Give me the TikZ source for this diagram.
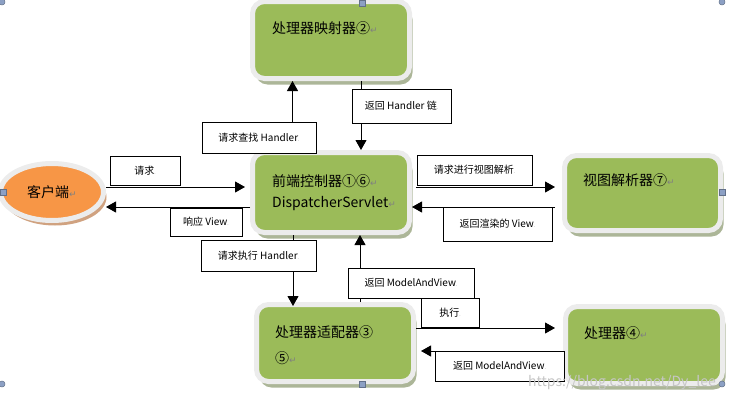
\documentclass[tikz,border=0pt]{standalone}
\usepackage{fontspec}
\setmainfont{Noto Sans CJK SC}
\newfontfamily\symfont{DejaVu Sans}
\usetikzlibrary{arrows.meta,shapes.geometric,shadows}
\definecolor{boxgreen}{RGB}{155,187,89}
\definecolor{boxrim}{RGB}{236,236,236}
\definecolor{boxshade}{RGB}{172,182,152}
\definecolor{clientorange}{RGB}{247,150,70}
\definecolor{clientshade}{RGB}{208,162,128}
\definecolor{handlefill}{RGB}{140,160,196}
\newcommand{\retmark}{{\symfont\color{gray}\fontsize{9}{9}\selectfont ↵}}
\newcommand{\tinymark}{{\color{gray}\fontsize{5}{5}\selectfont .}}
\tikzset{
  unit/.style={rounded corners=12pt, fill=boxgreen, draw=boxrim, line width=5pt,
    minimum width=157pt, minimum height=77pt,
    drop shadow={shadow xshift=3pt, shadow yshift=-6pt, fill=boxshade, opacity=1}},
  client/.style={ellipse, fill=clientorange, draw=boxrim, line width=5pt,
    minimum width=103pt, minimum height=57pt, inner sep=0pt,
    font=\fontsize{14}{16}\selectfont,
    drop shadow={shadow xshift=3pt, shadow yshift=-5pt, fill=clientshade, opacity=1}},
  boxtext/.style={inner sep=0pt, anchor=west, align=left, font=\fontsize{14}{21}\selectfont},
  tag/.style={draw=black, line width=0.8pt, fill=white, inner sep=0pt,
    font=\fontsize{10}{12}\selectfont},
  flow/.style={-{Triangle[length=10pt,width=11pt]}, line width=1pt},
  handle/.style={draw=handlefill!70!black, fill=handlefill, line width=0.5pt}
}
\begin{document}
\begin{tikzpicture}[x=1pt,y=-1pt]
  \useasboundingbox (0,0) rectangle (729,402);
  % boxes
  \node[unit] (mapper) at (331,40) {};
  \node[unit, minimum height=80pt] (front) at (331,192.5) {};
  \node[unit, minimum width=156pt, minimum height=75pt] (view) at (642.5,193) {};
  \node[unit] (adapter) at (335,343) {};
  \node[unit] (handler) at (644,345) {};
  \node[client] (client) at (52,192) {客户端\retmark};
  % box texts
  \node[boxtext] (mappertext) at ([xshift=22pt,yshift=12pt]mapper.west) {处理器映射器②\retmark};
  \node[boxtext] (fronttext) at ([xshift=22pt]front.west)
    {前端控制器①⑥\retmark\\ DispatcherServlet\retmark};
  \node[boxtext] (viewtext) at ([xshift=21pt,yshift=13pt]view.west) {视图解析器⑦\retmark};
  \node[boxtext] (adaptertext) at ([xshift=21pt,yshift=-2pt]adapter.west)
    {处理器适配器③\\[5pt]⑤\retmark};
  \node[boxtext] (handlertext) at ([xshift=21pt,yshift=12pt]handler.west) {处理器④\retmark};
  % connectors
  \draw[flow, shorten >=5pt] ([yshift=5pt]client.east) -- ([yshift=5pt]client.east -| front.west);
  \draw[flow] ([yshift=-15pt]client.east -| front.west) -- ([yshift=-15pt]client.east);
  \draw[flow] ([xshift=-38.5pt]front.north) -- ([xshift=-38.5pt]mapper.south);
  \draw[flow] ([xshift=30pt]mapper.south) -- ([xshift=30pt]front.north);
  \draw[flow, shorten <=4pt, shorten >=7pt] ([yshift=5.5pt]front.east) -- ([yshift=5.5pt]front.east -| view.west);
  \draw[flow, shorten <=7pt] ([yshift=-14.5pt]front.east -| view.west) -- ([yshift=-14.5pt]front.east);
  \draw[flow, shorten >=-4pt] ([xshift=-38pt]front.south) -- ([xshift=-38pt]front.south |- adapter.north);
  \draw[flow] ([xshift=29pt]front.south |- adapter.north) -- ([xshift=29pt]front.south);
  \draw[flow, shorten >=8pt] ([yshift=15pt]adapter.east) -- ([yshift=15pt]adapter.east -| handler.west);
  \draw[flow, shorten <=7pt, shorten >=5pt] ([yshift=-8pt]adapter.east -| handler.west) -- ([yshift=-8pt]adapter.east);
  % labels
  \node[tag, minimum width=70pt, minimum height=29pt] (request) at (145,170.5) {请求\tinymark};
  \node[tag, minimum width=72pt, minimum height=28pt] (response) at (206,222) {响应 View\tinymark};
  \node[tag, minimum width=114pt, minimum height=31pt] (find) at (259,137.5) {请求查找 Handler\tinymark};
  \node[tag, minimum width=99pt, minimum height=34pt] (chain) at (401.5,106) {返回 Handler 链\tinymark};
  \node[tag, minimum width=115pt, minimum height=30pt] (resolve) at (474.5,170) {请求进行视图解析\tinymark};
  \node[tag, minimum width=109pt, minimum height=34pt] (rendered) at (497.5,224) {返回渲染的 View\tinymark};
  \node[tag, minimum width=115pt, minimum height=31pt] (runhandler) at (258.5,255.5) {请求执行 Handler\tinymark};
  \node[tag, minimum width=126pt, minimum height=30pt] (mavup) at (411,283) {返回 ModelAndView\tinymark};
  \node[tag, minimum width=58pt, minimum height=29pt] (execute) at (450,312.5) {执行\tinymark};
  \node[tag, minimum width=129pt, minimum height=30pt] (mavback) at (499.5,366) {返回 ModelAndView\tinymark};
  % watermark and handles
  \node[text=gray!45, font=\fontsize{14}{16}\selectfont] (watermark) at (622,383) {https://blog.csdn.net/Dy\_lee};
  \foreach \p in {(362,3),(3,192),(722,192),(362,384)}
    \draw[handle] \p +(-3,-3) rectangle +(3,3);
  \foreach \p in {(2,2),(722,2),(2,384),(722,384)}
    \draw[handle] \p circle (3);
\end{tikzpicture}
\end{document}
